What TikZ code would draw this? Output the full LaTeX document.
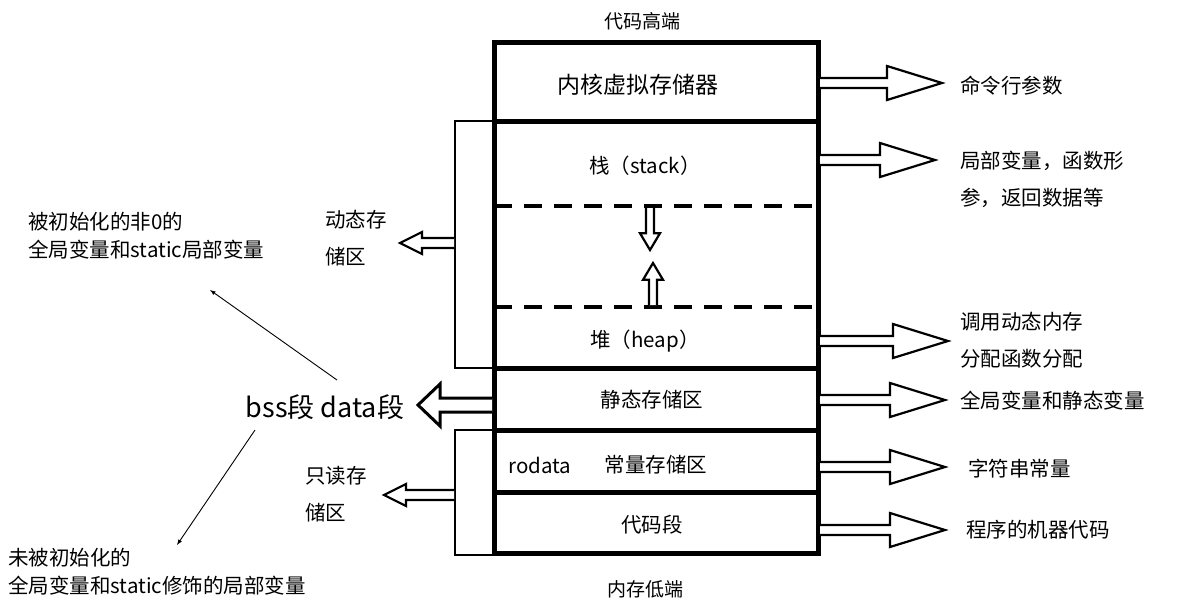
\documentclass[tikz,border=0pt]{standalone}
\usepackage{fontspec}
\setmainfont{Noto Sans CJK SC}
\begin{document}
\begin{tikzpicture}[x=1pt,y=-1pt,
  thick line/.style={line width=5pt},
  lbl/.style={font=\fontsize{19}{22}\selectfont, anchor=center, inner sep=0pt},
  side/.style={font=\fontsize{20.5}{37}\selectfont, align=left, anchor=west, inner sep=0pt},
  blk/.style={draw=black, line width=2.2pt, fill=white, line join=miter},
  pics/rarr/.style={code={\draw[blk] (0,-5) -- (#1-55,-5) -- (#1-55,-17) -- (#1,0) -- (#1-55,17) -- (#1-55,5) -- (0,5);}},
  pics/larr/.style={code={\draw[blk] (0,-5) -- (-#1+22,-5) -- (-#1+22,-11) -- (-#1,0) -- (-#1+22,11) -- (-#1+22,5) -- (0,5);}},
  pics/varr/.style={code={\draw[blk] (-4,0) -- (-4,#1*0.6) -- (-10,#1*0.6) -- (0,#1) -- (10,#1*0.6) -- (4,#1*0.6) -- (4,0);}}
]
\useasboundingbox (0,0) rectangle (1183,606);
% brackets
\draw[line width=1.5pt] (494,121) -- (455,121) -- (455,368) -- (494,368);
\draw[line width=1.5pt] (494,430) -- (455,430) -- (455,555) -- (494,555);
% main box
\draw[thick line] (494,42) rectangle (818,553);
\foreach \y in {121,368,430,492} \draw[thick line] (494,\y) -- (818,\y);
\draw[line width=4.5pt, dash pattern=on 18pt off 12pt] (494,206) -- (818,206);
\draw[line width=4.5pt, dash pattern=on 18pt off 12pt] (494,307) -- (818,307);
% inner arrows
\pic at (650,208) {varr=42};
\pic at (653,305) {varr=-42};
% texts in box
\node[lbl] (top) at (642,21) {代码高端};
\node[lbl] (bot) at (645,589) {内存低端};
\node[lbl, font=\fontsize{23}{26}\selectfont] (k) at (638,85) {内核虚拟存储器};
\node[lbl, font=\fontsize{20.5}{24}\selectfont] (s) at (645,166) {栈（stack）};
\node[lbl, font=\fontsize{20.5}{24}\selectfont] (h) at (645,341) {堆（heap）};
\node[lbl, font=\fontsize{20.5}{24}\selectfont] (st) at (652,400) {静态存储区};
\node[lbl, font=\fontsize{20.5}{24}\selectfont] (ro) at (540,465) {rodata};
\node[lbl, font=\fontsize{20.5}{24}\selectfont] (cs) at (656,465) {常量存储区};
\node[lbl, font=\fontsize{20.5}{24}\selectfont] (cd) at (652,525) {代码段};
% right arrows
\pic at (820,83) {rarr=122};
\pic at (820,160) {rarr=115};
\pic at (820,341) {rarr=128};
\pic at (820,400) {rarr=125};
\pic at (820,467) {rarr=125};
\pic at (820,530) {rarr=125};
\node[side] (r1) at (960,86) {命令行参数};
\node[side] (r2) at (960,179) {局部变量，函数形\\参，返回数据等};
\node[side] (r3) at (960,340) {调用动态内存\\分配函数分配};
\node[side] (r4) at (960,401) {全局变量和静态变量};
\node[side] (r5) at (968,469) {字符串常量};
\node[side] (r6) at (966,530) {程序的机器代码};
% left arrows
\pic at (454,243) {larr=54};
\pic at (454,495) {larr=70};
\draw[blk, line width=3pt] (492,398) -- (440,398) -- (440,384) -- (418,405) -- (440,426) -- (440,412) -- (492,412);
\node[side] (dyn) at (325,238) {动态存\\储区};
\node[side] (rd) at (305,494) {只读存\\储区};
\node[lbl, font=\fontsize{27}{30}\selectfont] (bss) at (325,407) {bss段 data段};
\node[side, font=\fontsize{20.5}{28}\selectfont] (init) at (28,236) {被初始化的非0的\\全局变量和static局部变量};
\node[side, font=\fontsize{20.5}{28}\selectfont] (uninit) at (8,572) {未被初始化的\\全局变量和static修饰的局部变量};
\coordinate (a1) at (210,290);
\coordinate (a2) at (177,545);
\draw[line width=0.9pt, -latex] (337,380) -- (a1);
\draw[line width=0.9pt, -latex] (255,430) -- (a2);
\end{tikzpicture}
\end{document}
